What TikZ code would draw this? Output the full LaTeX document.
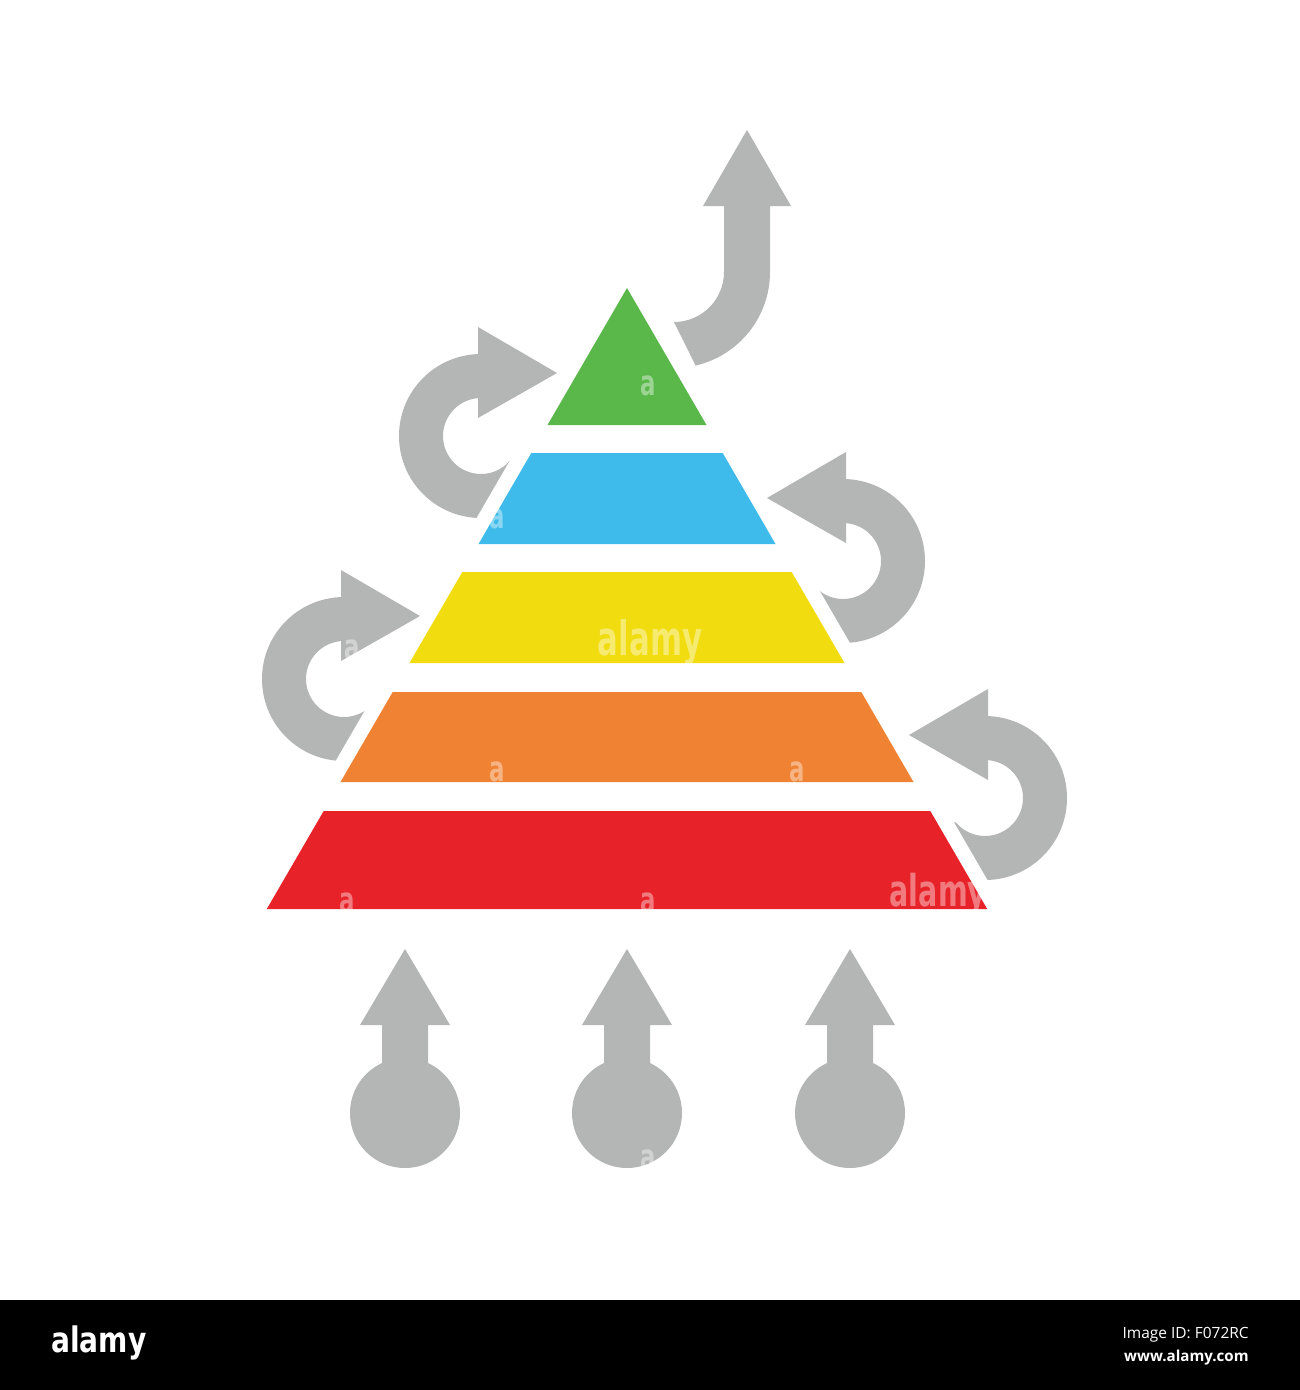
\documentclass[tikz,border=0pt]{standalone}
\usepackage{fontspec}
\setmainfont{DejaVu Sans}
\newfontfamily\osans{Open Sans}
\definecolor{pgreen}{HTML}{5AB84B}
\definecolor{pblue}{HTML}{3EBBEB}
\definecolor{pyellow}{HTML}{F0DC0F}
\definecolor{porange}{HTML}{F08233}
\definecolor{pred}{HTML}{E82229}
\definecolor{agrey}{HTML}{B4B5B5}
\tikzset{
  layer/.style={draw=none},
  wm/.style={text=white, text opacity=0.4, inner sep=0pt, font=\bfseries\fontsize{20}{20}\selectfont},
  carrow/.pic={
    \fill[agrey] (40:82) arc[start angle=40,end angle=270,radius=82]
      -- (-3,-82) -- (-3,-109) -- (76,-63) -- (-3,-18) -- (-3,-38) -- (0,-38)
      arc[start angle=270,end angle=40,radius=38] -- ++(60,0) -- cycle;
  },
  barrow/.pic={
    \fill[agrey] (0,0) circle[radius=55];
    \fill[agrey] (-23,-40) -- (-23,-88) -- (-45,-88) -- (0,-164) -- (45,-88)
      -- (23,-88) -- (23,-40) -- cycle;
  }
}
\newcommand{\wma}[1]{\scalebox{0.65}[1]{#1}}
\begin{document}
\begin{tikzpicture}[x=0.02cm,y=-0.02cm]
\useasboundingbox (0,0) rectangle (1300,1390);
\fill[white] (0,0) rectangle (1300,1300);
\fill[black] (0,1300) rectangle (1300,1390);

% curved arrows
\pic at (481,436) {carrow};
\pic at (344,679) {carrow};
\pic[xscale=-1] at (843,561) {carrow};
\pic[xscale=-1] at (985,798) {carrow};

% top right arrow
\fill[agrey] (770,272) arc[start angle=0,end angle=77,radius=96]
  -- (674,322) arc[start angle=90,end angle=0,radius=50]
  -- (724,206) -- (703,206) -- (747,130) -- (791,206) -- (770,206) -- cycle;

% white envelope cutting arrow tails
\fill[white] (627,258.7) -- (1016.4,930) -- (237.6,930) -- cycle;

% pyramid layers
\fill[pgreen]  (627,288) -- (706.5,425) -- (547.5,425) -- cycle;
\fill[pblue]   (531.3,453) -- (722.7,453) -- (775.5,544) -- (478.5,544) -- cycle;
\fill[pyellow] (462.3,572) -- (791.7,572) -- (844.5,663) -- (409.5,663) -- cycle;
\fill[porange] (392.7,692) -- (861.3,692) -- (913.5,782) -- (340.5,782) -- cycle;
\fill[pred]    (323.7,811) -- (930.3,811) -- (987.2,909) -- (266.8,909) -- cycle;

% bottom arrows
\pic at (405,1113) {barrow};
\pic at (627,1113) {barrow};
\pic at (850,1113) {barrow};

% faint watermarks
\node[wm] (w1) at (648,386) {\wma{a}};
\node[wm] (w2) at (497,519) {\wma{a}};
\node[wm] (w3) at (352,650) {\wma{a}};
\node[wm] (w4) at (497,772) {\wma{a}};
\node[wm] (w5) at (797,772) {\wma{a}};
\node[wm] (w6) at (347,903) {\wma{a}};
\node[wm] (w7) at (648,903) {\wma{a}};
\node[wm] (w8) at (648,1160) {\wma{a}};
\node[wm, font=\bfseries\fontsize{27}{27}\selectfont] (w9) at (650,643) {\wma{alamy}};
\node[wm, font=\bfseries\fontsize{25}{25}\selectfont] (w10) at (938,895) {\wma{alamy}};

% bottom bar texts
\node[anchor=base west, inner sep=0pt, text=white, font=\bfseries\fontsize{20}{20}\selectfont] (logo) at (51,1352) {\scalebox{0.8}[1]{alamy}};
\node[anchor=base east, inner sep=0pt, text=white, font=\osans\fontsize{8.8}{9}\selectfont] (imgid) at (1249,1338) {Image ID: F072RC};
\node[anchor=base east, inner sep=0pt, text=white, font=\osans\bfseries\fontsize{8.6}{9}\selectfont] (www) at (1249,1361) {www.alamy.com};
\end{tikzpicture}
\end{document}
